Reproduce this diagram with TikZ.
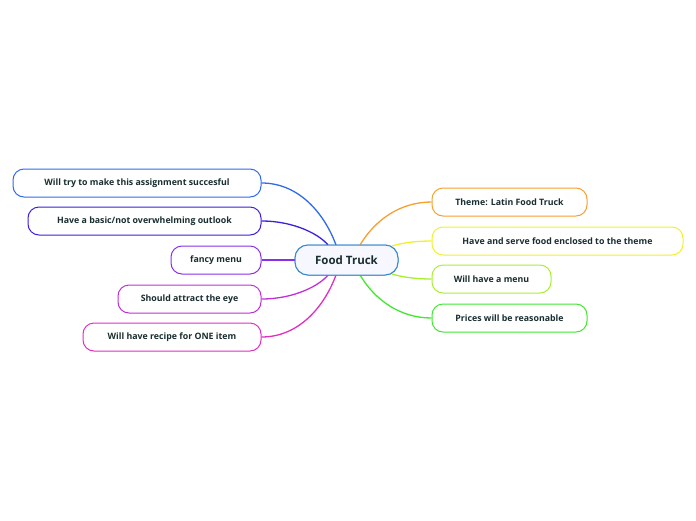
\documentclass[tikz,border=0pt]{standalone}
\usepackage{fontspec}
\setmainfont{Open Sans}
\begin{document}
\begin{tikzpicture}[x=1pt,y=-1pt,
 leaf/.style={draw=#1,line width=1pt,rounded corners=11pt,fill=white,minimum height=28pt,inner xsep=10pt,font=\fontsize{8.8}{10}\selectfont\bfseries,text=textc,anchor=center},
 ctr/.style={draw=cb,line width=1pt,rounded corners=13pt,fill=blue!3,minimum width=103pt,minimum height=30pt,font=\fontsize{11.5}{13}\selectfont\bfseries,text=textc},
 con/.style={draw=#1,line width=1.3pt}]
\definecolor{textc}{HTML}{1A2E30}
\definecolor{c1}{HTML}{2F6AF0}\definecolor{c2}{HTML}{3A20E0}\definecolor{c3}{HTML}{8A30E8}
\definecolor{c4}{HTML}{C030D8}\definecolor{c5}{HTML}{E030C0}
\definecolor{r1}{HTML}{F5A030}\definecolor{r2}{HTML}{F0F030}\definecolor{r3}{HTML}{A8F030}\definecolor{r4}{HTML}{40E830}
\definecolor{cb}{HTML}{3A8AD0}
\useasboundingbox (0,0) rectangle (696,520);
\node[ctr] (c) at (346.5,260) {Food Truck};
\node[leaf=r1,minimum width=155pt] (a) at (509.5,202) {Theme: Latin Food Truck};
\node[leaf=r2,minimum width=251pt] (b) at (557.5,241) {Have and serve food enclosed to the theme};
\node[leaf=r3,minimum width=119pt] (d) at (491.5,279) {Will have a menu};
\node[leaf=r4,minimum width=155pt] (e) at (509.5,318) {Prices will be reasonable};
\node[leaf=c1,minimum width=248pt] (l1) at (137,183) {Will try to make this assignment succesful};
\node[leaf=c2,minimum width=233pt] (l2) at (144.5,221) {Have a basic/not overwhelming outlook};
\node[leaf=c3,minimum width=90pt] (l3) at (216,260) {fancy menu};
\node[leaf=c4,minimum width=143pt] (l4) at (189.5,299) {Should attract the eye};
\node[leaf=c5,minimum width=178pt] (l5) at (172,337) {Will have recipe for ONE item};
\draw[con=c1] (l1.east) .. controls (300,183) and (325,215) .. (336,245);
\draw[con=c2] (l2.east) .. controls (295,221) and (320,235) .. (328,245);
\draw[con=c3] (l3.east) -- (c.west);
\draw[con=c4] (l4.east) .. controls (295,299) and (320,285) .. (328,275);
\draw[con=c5] (l5.east) .. controls (300,337) and (325,305) .. (336,275);
\draw[con=r1] (360,245) .. controls (375,220) and (400,202) .. (a.west);
\draw[con=r2] (392,246) .. controls (405,242) and (420,241) .. (b.west);
\draw[con=r3] (392,274) .. controls (405,278) and (420,279) .. (d.west);
\draw[con=r4] (360,275) .. controls (375,300) and (400,318) .. (e.west);
\node[ctr] (c2) at (c) {Food Truck};
\end{tikzpicture}
\end{document}
